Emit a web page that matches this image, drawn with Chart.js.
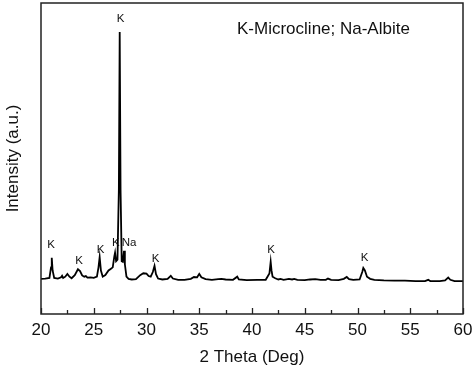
<!DOCTYPE html>
<html>
<head>
<meta charset="utf-8">
<script src="https://cdn.jsdelivr.net/npm/chart.js@4/dist/chart.umd.min.js"></script>
<style>
  html, body { margin: 0; padding: 0; background: #fff; }
  #wrap { width: 474px; height: 368px; }
</style>
</head>
<body>
<div id="wrap"><canvas id="xrd"></canvas></div>
<script>
// XRD pattern (2theta in deg, intensity in arbitrary units)
const twoTheta = [
  20.0, 20.4, 20.8, 20.95, 21.02, 21.1, 21.25, 21.6, 21.9, 22.0, 22.1, 22.3, 22.5, 22.7, 22.9,
  23.2, 23.5, 23.7, 23.9, 24.1, 24.25, 24.4, 24.7, 25.0, 25.3, 25.45, 25.56, 25.68, 25.85,
  26.1, 26.4, 26.6, 26.8, 26.95, 27.02, 27.12, 27.25, 27.38, 27.46, 27.54, 27.65, 27.75, 27.87,
  27.95, 28.1, 28.3, 28.6, 29.0, 29.4, 29.7, 30.0, 30.2, 30.4, 30.6, 30.76, 30.9, 31.1, 31.5,
  32.0, 32.3, 32.5, 33.0, 33.6, 34.2, 34.5, 34.8, 35.0, 35.2, 35.6, 36.2, 36.8, 37.1, 37.5,
  38.2, 38.6, 38.75, 39.5, 40.5, 41.3, 41.65, 41.77, 41.85, 41.95, 42.2, 42.5, 42.7, 43.0,
  43.5, 43.8, 44.0, 44.3, 45.0, 45.5, 46.0, 46.5, 47.0, 47.2, 47.5, 48.2, 48.7, 48.98, 49.2,
  49.6, 50.2, 50.45, 50.55, 50.7, 50.9, 51.2, 51.6, 52.5, 53.5, 54.5, 55.5, 56.4, 56.7, 56.9,
  57.8, 58.3, 58.6, 58.8, 59.2, 60.0
];
const intensity = [
  113, 114, 116, 150, 181, 140, 116, 114, 118, 123, 116, 120, 129, 120, 115,
  125, 144, 138, 124, 120, 122, 117, 118, 116, 120, 150, 183, 140, 120,
  125, 140, 145, 150, 185, 197, 170, 175, 400, 907, 400, 170, 168, 203,
  160, 120, 113, 111, 112, 125, 131, 130, 122, 120, 135, 155, 128, 114, 111,
  113, 123, 114, 110, 110, 113, 119, 118, 129, 118, 112, 110, 112, 113, 111,
  110, 120, 111, 109, 110, 110, 130, 168, 140, 120, 115, 111, 113, 110,
  113, 111, 113, 110, 109, 111, 112, 110, 110, 114, 110, 109, 113, 119, 112,
  110, 111, 135, 148, 140, 120, 113, 110, 108, 107, 107, 106, 106, 110, 106,
  106, 108, 117, 110, 106, 106
];

// phase labels over the peaks
const peakLabelText = ['K', 'K', 'K', 'K', 'Na', 'K', 'K', 'K', 'K'];
const peakLabelX    = [20.95, 23.6, 25.65, 27.1, 28.34, 27.55, 30.85, 41.8, 50.68];
const peakLabelY    = [222, 170, 206, 228, 228, 949, 177, 206, 180];

const legendText = 'K-Microcline; Na-Albite';
const legendAt = { x: 38.58, y: 916 };

const xTicks = [20, 25, 30, 35, 40, 45, 50, 55, 60];

const FONT = '"Liberation Sans", Arial, sans-serif';
const INK = '#111';

const decor = {
  id: 'decor',
  afterDatasetsDraw(chart) {
    const { ctx, chartArea: a, scales } = chart;
    const xs = scales.x, ys = scales.y;
    ctx.save();
    // frame
    ctx.strokeStyle = '#222';
    ctx.lineWidth = 1.5;
    ctx.strokeRect(a.left, a.top, a.right - a.left, a.bottom - a.top);
    // inward ticks on the bottom axis, minor every 2.5
    ctx.lineWidth = 1.3;
    for (let v = xs.min; v <= xs.max + 1e-9; v += 2.5) {
      const px = Math.round(xs.getPixelForValue(v)) + 0.5;
      const len = (v % 5 === 0) ? 6 : 4;
      ctx.beginPath();
      ctx.moveTo(px, a.bottom);
      ctx.lineTo(px, a.bottom - len);
      ctx.stroke();
    }
    // peak labels
    ctx.fillStyle = INK;
    ctx.font = '11.5px ' + FONT;
    ctx.textAlign = 'center';
    ctx.textBaseline = 'middle';
    peakLabelText.forEach((t, i) => {
      ctx.fillText(t, xs.getPixelForValue(peakLabelX[i]), ys.getPixelForValue(peakLabelY[i]));
    });
    // phase key
    ctx.font = '17px ' + FONT;
    ctx.textAlign = 'left';
    ctx.fillText(legendText, xs.getPixelForValue(legendAt.x), ys.getPixelForValue(legendAt.y));
    ctx.restore();
  }
};

new Chart(document.getElementById('xrd'), {
  type: 'line',
  data: {
    datasets: [{
      data: twoTheta.map((x, i) => ({ x, y: intensity[i] })),
      borderColor: '#000',
      borderWidth: 1.8,
      pointRadius: 0,
      tension: 0,
      fill: false
    }]
  },
  options: {
    responsive: true,
    maintainAspectRatio: false,
    animation: false,
    layout: { padding: { top: 3, right: 11, left: 0, bottom: 0 } },
    plugins: { legend: { display: false }, tooltip: { enabled: false } },
    scales: {
      x: {
        type: 'linear',
        min: 20,
        max: 60,
        afterBuildTicks: (s) => { s.ticks = xTicks.map(v => ({ value: v })); },
        afterFit: (s) => { s.height = 54; s.paddingLeft = 0; s.paddingRight = 0; },
        grid: { display: false, drawTicks: false },
        border: { display: false },
        ticks: { color: INK, font: { family: FONT, size: 17 }, padding: 6, maxRotation: 0 },
        title: {
          display: true,
          text: '2 Theta (Deg)',
          color: INK,
          font: { family: FONT, size: 17 },
          padding: { top: 0, bottom: 0 }
        }
      },
      y: {
        min: 0,
        max: 1000,
        afterFit: (s) => { s.width = 41; },
        grid: { display: false, drawTicks: false },
        border: { display: false },
        ticks: { display: false },
        title: {
          display: true,
          text: 'Intensity (a.u.)',
          color: INK,
          font: { family: FONT, size: 17 },
          padding: { top: 3, bottom: 0 }
        }
      }
    }
  },
  plugins: [decor]
});
</script>
</body>
</html>
